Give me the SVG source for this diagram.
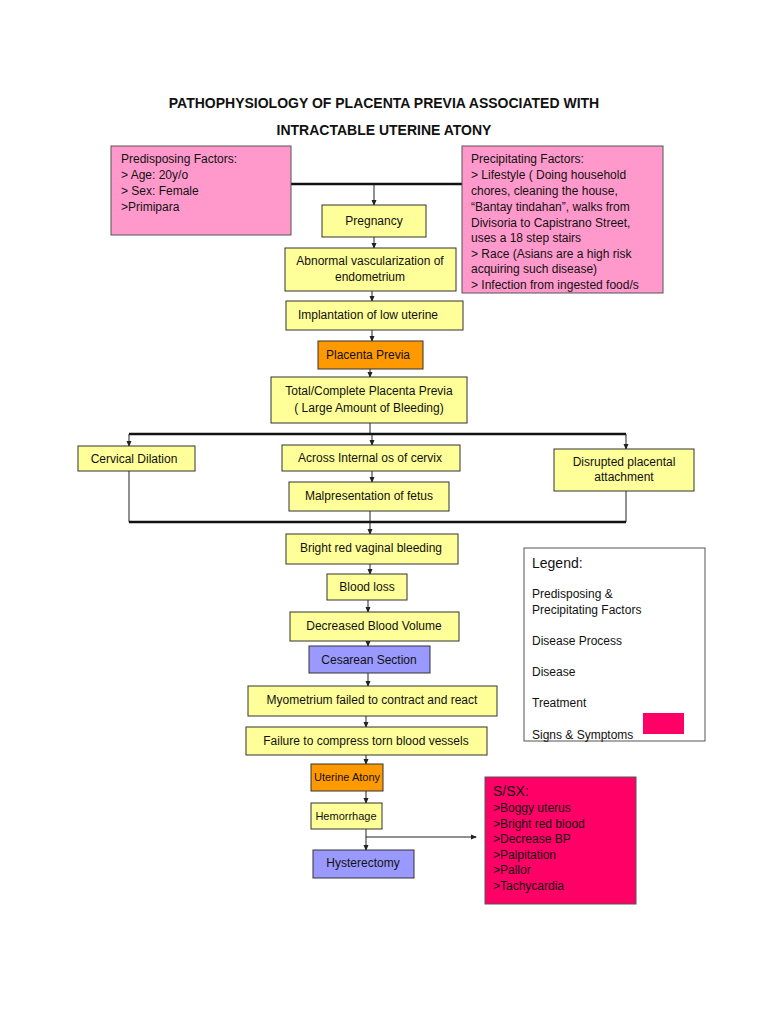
<svg xmlns="http://www.w3.org/2000/svg" width="768" height="1024" viewBox="0 0 768 1024">
<style>
text{font-family:"Liberation Sans",Arial,sans-serif;font-size:12px;fill:#111}
.t{font-weight:bold;font-size:14px;text-anchor:middle}
.c{text-anchor:middle}
.sm{font-size:11px}
.y{fill:#ffff99;stroke:#333;stroke-width:1}
.o{fill:#ff9900;stroke:#333;stroke-width:1}
.b{fill:#9999ff;stroke:#333;stroke-width:1}
.p{fill:#ff99cc;stroke:#555;stroke-width:1}
.s{fill:#ff0066;stroke:#555;stroke-width:1}
.l{stroke:#222;stroke-width:1;fill:none}
.k{stroke:#111;stroke-width:2.5;fill:none}
</style>
<defs><marker id="a" markerWidth="6" markerHeight="6" refX="5" refY="3" orient="auto"><path d="M0,0.5L6,3L0,5.5z" fill="#222"/></marker></defs>
<rect width="768" height="1024" fill="#fff"/>
<text class="t" x="384" y="108">PATHOPHYSIOLOGY OF PLACENTA PREVIA ASSOCIATED WITH</text>
<text class="t" x="384" y="135">INTRACTABLE UTERINE ATONY</text>
<g id="connectors">
<path class="k" d="M291,184H462"/>
<path class="l" marker-end="url(#a)" d="M374,184V205"/>
<path class="l" marker-end="url(#a)" d="M374,237V248"/>
<path class="l" marker-end="url(#a)" d="M372,291V301"/>
<path class="l" marker-end="url(#a)" d="M372,330V341"/>
<path class="l" marker-end="url(#a)" d="M370,369V377"/>
<path class="l" d="M370,423V434"/>
<path class="k" d="M129,434H626"/>
<path class="l" marker-end="url(#a)" d="M129,434V446"/>
<path class="l" marker-end="url(#a)" d="M372,434V445"/>
<path class="l" marker-end="url(#a)" d="M626,434V449"/>
<path class="l" marker-end="url(#a)" d="M372,471V482"/>
<path class="l" d="M129,471V522M626,491V522M370,511V522"/>
<path class="k" d="M129,522H626"/>
<path class="l" marker-end="url(#a)" d="M370,522V534"/>
<path class="l" marker-end="url(#a)" d="M370,564V574"/>
<path class="l" marker-end="url(#a)" d="M368,600V612"/>
<path class="l" marker-end="url(#a)" d="M368,641V646"/>
<path class="l" marker-end="url(#a)" d="M368,673V686"/>
<path class="l" marker-end="url(#a)" d="M366,716V727"/>
<path class="l" marker-end="url(#a)" d="M366,755V764"/>
<path class="l" marker-end="url(#a)" d="M366,791V803"/>
<path class="l" marker-end="url(#a)" d="M366,829V850"/>
<path class="l" marker-end="url(#a)" d="M366,837H476"/>
</g>
<g id="predisposing"><rect class="p" x="111" y="146" width="180" height="89"/>
<text x="121" y="163">Predisposing Factors:</text><text x="121" y="179">&gt; Age: 20y/o</text><text x="121" y="195">&gt; Sex: Female</text><text x="121" y="211">&gt;Primipara</text></g>
<g id="precipitating"><rect class="p" x="462" y="146" width="201" height="147"/>
<text x="471" y="163">Precipitating Factors:</text><text x="471" y="179">&gt; Lifestyle ( Doing household</text><text x="471" y="195">chores, cleaning the house,</text><text x="471" y="211">“Bantay tindahan”, walks from</text><text x="471" y="227">Divisoria to Capistrano Street,</text><text x="471" y="242">uses a 18 step stairs</text><text x="471" y="258">&gt; Race (Asians are a high risk</text><text x="471" y="273">acquiring such disease)</text><text x="471" y="289">&gt; Infection from ingested food/s</text></g>
<g id="pregnancy"><rect class="y" x="322" y="205" width="104" height="32"/><text class="c" x="374" y="225">Pregnancy</text></g>
<g id="abnormal"><rect class="y" x="285" y="248" width="171" height="43"/><text class="c" x="370" y="265">Abnormal vascularization of</text><text class="c" x="370" y="281">endometrium</text></g>
<g id="implantation"><rect class="y" x="286" y="301" width="177" height="29"/><text class="c" x="368" y="319">Implantation of low uterine</text></g>
<g id="placenta-previa"><rect class="o" x="318" y="341" width="105" height="28"/><text class="c" x="368" y="359">Placenta Previa</text></g>
<g id="total"><rect class="y" x="271" y="377" width="196" height="46"/><text class="c" x="369" y="395">Total/Complete Placenta Previa</text><text class="c" x="369" y="412">( Large Amount of Bleeding)</text></g>
<g id="cervical"><rect class="y" x="78" y="446" width="117" height="25"/><text class="c" x="134" y="463">Cervical Dilation</text></g>
<g id="across"><rect class="y" x="282" y="445" width="178" height="26"/><text class="c" x="370" y="462">Across Internal os of cervix</text></g>
<g id="disrupted"><rect class="y" x="554" y="449" width="140" height="42"/><text class="c" x="624" y="466">Disrupted placental</text><text class="c" x="624" y="481">attachment</text></g>
<g id="malpresentation"><rect class="y" x="289" y="482" width="160" height="29"/><text class="c" x="369" y="500">Malpresentation of fetus</text></g>
<g id="bright"><rect class="y" x="286" y="534" width="172" height="30"/><text class="c" x="371" y="552">Bright red vaginal bleeding</text></g>
<g id="bloodloss"><rect class="y" x="327" y="574" width="80" height="26"/><text class="c" x="367" y="591">Blood loss</text></g>
<g id="decreased"><rect class="y" x="290" y="612" width="169" height="29"/><text class="c" x="374" y="630">Decreased Blood Volume</text></g>
<g id="cesarean"><rect class="b" x="309" y="646" width="121" height="27"/><text class="c" x="369" y="664">Cesarean Section</text></g>
<g id="myometrium"><rect class="y" x="248" y="686" width="249" height="30"/><text class="c" x="372" y="704">Myometrium failed to contract and react</text></g>
<g id="failure"><rect class="y" x="246" y="727" width="241" height="28"/><text class="c" x="366" y="745">Failure to compress torn blood vessels</text></g>
<g id="uterine-atony"><rect class="o" x="311" y="764" width="72" height="27"/><text class="c sm" x="347" y="781">Uterine Atony</text></g>
<g id="hemorrhage"><rect class="y" x="311" y="803" width="71" height="26"/><text class="c sm" x="346" y="820">Hemorrhage</text></g>
<g id="hysterectomy"><rect class="b" x="313" y="850" width="101" height="28"/><text class="c" x="363" y="867">Hysterectomy</text></g>
<g id="ssx"><rect class="s" x="485" y="777" width="151" height="127"/>
<text x="493" y="796" style="font-size:14px">S/SX:</text><text x="493" y="812">&gt;Boggy uterus</text><text x="493" y="828">&gt;Bright red blood</text><text x="493" y="843">&gt;Decrease BP</text><text x="493" y="859">&gt;Palpitation</text><text x="493" y="874">&gt;Pallor</text><text x="493" y="890">&gt;Tachycardia</text></g>
<g id="legend"><rect x="524" y="548" width="181" height="193" fill="#fff" stroke="#555"/>
<text x="532" y="568" style="font-size:14px">Legend:</text><text x="532" y="598">Predisposing &amp;</text><text x="532" y="614">Precipitating Factors</text><text x="532" y="645">Disease Process</text><text x="532" y="676">Disease</text><text x="532" y="707">Treatment</text><text x="532" y="739">Signs &amp; Symptoms</text>
<rect x="643" y="713" width="41" height="21" fill="#ff0066"/></g>
</svg>
